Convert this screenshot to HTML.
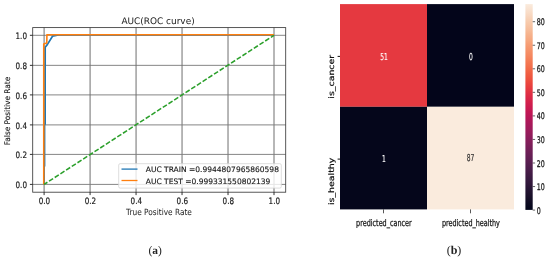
<!DOCTYPE html>
<html lang="en"><head><meta charset="utf-8"><title>ROC curve and confusion matrix</title>
<style>html,body{margin:0;padding:0;background:#fff;overflow:hidden}svg{display:block}</style></head>
<body>
<svg width="550" height="261" viewBox="0 0 550 261" font-family="'DejaVu Sans', 'Liberation Sans', sans-serif" text-rendering="geometricPrecision">
<rect x="0" y="0" width="550" height="261" fill="#ffffff"/>
<line x1="44.10" y1="27.6" x2="44.10" y2="192.2" stroke="#7c7c7c" stroke-width="1.1"/>
<line x1="32.7" y1="184.40" x2="285.7" y2="184.40" stroke="#707070" stroke-width="0.85"/>
<line x1="90.08" y1="27.6" x2="90.08" y2="192.2" stroke="#7c7c7c" stroke-width="1.1"/>
<line x1="32.7" y1="154.40" x2="285.7" y2="154.40" stroke="#707070" stroke-width="0.85"/>
<line x1="136.06" y1="27.6" x2="136.06" y2="192.2" stroke="#7c7c7c" stroke-width="1.1"/>
<line x1="32.7" y1="124.90" x2="285.7" y2="124.90" stroke="#707070" stroke-width="0.85"/>
<line x1="182.04" y1="27.6" x2="182.04" y2="192.2" stroke="#7c7c7c" stroke-width="1.1"/>
<line x1="32.7" y1="94.90" x2="285.7" y2="94.90" stroke="#707070" stroke-width="0.85"/>
<line x1="228.02" y1="27.6" x2="228.02" y2="192.2" stroke="#7c7c7c" stroke-width="1.1"/>
<line x1="32.7" y1="65.35" x2="285.7" y2="65.35" stroke="#707070" stroke-width="0.85"/>
<line x1="274.00" y1="27.6" x2="274.00" y2="192.2" stroke="#7c7c7c" stroke-width="1.1"/>
<line x1="32.7" y1="35.30" x2="285.7" y2="35.30" stroke="#707070" stroke-width="0.85"/>
<clipPath id="c"><rect x="32.7" y="27.6" width="253.0" height="164.6"/></clipPath>
<g clip-path="url(#c)" fill="none" stroke-linejoin="round">
<path d="M44.10,184.40 L44.0,166.5 L44.55,166 L44.55,125 L45.15,124 L45.2,47.2 L47.3,44.6 L52.5,36.2 L58.5,35.0 L274.00,35.0" stroke="#1f77b4" stroke-width="1.7"/>
<path d="M43.75,184.40 L43.75,44.1 L46.8,43.1 L46.9,34.75 L274.00,34.75" stroke="#ff7f0e" stroke-width="1.6"/>
<line x1="44.10" y1="184.40" x2="274.00" y2="35.30" stroke="#2ca02c" stroke-width="1.55" stroke-dasharray="4.85 1.93" stroke-dashoffset="0.9"/>
</g>
<rect x="32.7" y="27.6" width="253.00" height="164.60" fill="none" stroke="#3c3c3c" stroke-width="0.85"/>
<line x1="44.10" y1="192.2" x2="44.10" y2="195.1" stroke="#1a1a1a" stroke-width="0.9"/>
<line x1="29.900000000000002" y1="184.40" x2="32.7" y2="184.40" stroke="#1a1a1a" stroke-width="0.9"/>
<text transform="translate(44.40,204.2) scale(0.82,1)" font-size="8.8" text-anchor="middle" fill="#1a1a1a" stroke="#1a1a1a" stroke-width="0.2">0.0</text>
<text transform="translate(27.0,188.00) scale(0.82,1)" font-size="8.8" text-anchor="end" fill="#1a1a1a" stroke="#1a1a1a" stroke-width="0.2">0.0</text>
<line x1="90.08" y1="192.2" x2="90.08" y2="195.1" stroke="#1a1a1a" stroke-width="0.9"/>
<line x1="29.900000000000002" y1="154.40" x2="32.7" y2="154.40" stroke="#1a1a1a" stroke-width="0.9"/>
<text transform="translate(90.38,204.2) scale(0.82,1)" font-size="8.8" text-anchor="middle" fill="#1a1a1a" stroke="#1a1a1a" stroke-width="0.2">0.2</text>
<text transform="translate(27.0,158.00) scale(0.82,1)" font-size="8.8" text-anchor="end" fill="#1a1a1a" stroke="#1a1a1a" stroke-width="0.2">0.2</text>
<line x1="136.06" y1="192.2" x2="136.06" y2="195.1" stroke="#1a1a1a" stroke-width="0.9"/>
<line x1="29.900000000000002" y1="124.90" x2="32.7" y2="124.90" stroke="#1a1a1a" stroke-width="0.9"/>
<text transform="translate(136.36,204.2) scale(0.82,1)" font-size="8.8" text-anchor="middle" fill="#1a1a1a" stroke="#1a1a1a" stroke-width="0.2">0.4</text>
<text transform="translate(27.0,128.50) scale(0.82,1)" font-size="8.8" text-anchor="end" fill="#1a1a1a" stroke="#1a1a1a" stroke-width="0.2">0.4</text>
<line x1="182.04" y1="192.2" x2="182.04" y2="195.1" stroke="#1a1a1a" stroke-width="0.9"/>
<line x1="29.900000000000002" y1="94.90" x2="32.7" y2="94.90" stroke="#1a1a1a" stroke-width="0.9"/>
<text transform="translate(182.34,204.2) scale(0.82,1)" font-size="8.8" text-anchor="middle" fill="#1a1a1a" stroke="#1a1a1a" stroke-width="0.2">0.6</text>
<text transform="translate(27.0,98.50) scale(0.82,1)" font-size="8.8" text-anchor="end" fill="#1a1a1a" stroke="#1a1a1a" stroke-width="0.2">0.6</text>
<line x1="228.02" y1="192.2" x2="228.02" y2="195.1" stroke="#1a1a1a" stroke-width="0.9"/>
<line x1="29.900000000000002" y1="65.35" x2="32.7" y2="65.35" stroke="#1a1a1a" stroke-width="0.9"/>
<text transform="translate(228.32,204.2) scale(0.82,1)" font-size="8.8" text-anchor="middle" fill="#1a1a1a" stroke="#1a1a1a" stroke-width="0.2">0.8</text>
<text transform="translate(27.0,68.95) scale(0.82,1)" font-size="8.8" text-anchor="end" fill="#1a1a1a" stroke="#1a1a1a" stroke-width="0.2">0.8</text>
<line x1="274.00" y1="192.2" x2="274.00" y2="195.1" stroke="#1a1a1a" stroke-width="0.9"/>
<line x1="29.900000000000002" y1="35.30" x2="32.7" y2="35.30" stroke="#1a1a1a" stroke-width="0.9"/>
<text transform="translate(274.30,204.2) scale(0.82,1)" font-size="8.8" text-anchor="middle" fill="#1a1a1a" stroke="#1a1a1a" stroke-width="0.2">1.0</text>
<text transform="translate(27.0,38.90) scale(0.82,1)" font-size="8.8" text-anchor="end" fill="#1a1a1a" stroke="#1a1a1a" stroke-width="0.2">1.0</text>
<text x="158" y="23.9" font-size="8.95" text-anchor="middle" fill="#1a1a1a">AUC(ROC curve)</text>
<text transform="translate(159,214.7) scale(0.86,1)" font-size="8.6" text-anchor="middle" fill="#1a1a1a">True Positive Rate</text>
<text transform="translate(10,111) rotate(-90) scale(0.95,1)" font-size="7.75" text-anchor="middle" fill="#1a1a1a" stroke="#1a1a1a" stroke-width="0.12">False Positive Rate</text>
<rect x="118.7" y="163.7" width="162.6" height="24.4" rx="1.5" ry="1.5" fill="#ffffff" fill-opacity="0.8" stroke="#d4d4d4" stroke-width="0.8"/>
<line x1="121.5" y1="169.1" x2="137.5" y2="169.1" stroke="#1f77b4" stroke-width="1.3"/>
<line x1="121.5" y1="180.5" x2="137.5" y2="180.5" stroke="#ff7f0e" stroke-width="1.3"/>
<text x="145.8" y="172.4" font-size="7.52" fill="#1a1a1a" stroke="#1a1a1a" stroke-width="0.15">AUC TRAIN =0.9944807965860598</text>
<text x="145.8" y="183.9" font-size="7.52" fill="#1a1a1a" stroke="#1a1a1a" stroke-width="0.15">AUC TEST =0.999331550802139</text>
<text x="155.1" y="254.2" font-size="11.4" text-anchor="middle" fill="#222" font-family="'Liberation Serif', serif">(<tspan font-weight="bold">a</tspan>)</text>
<rect x="340.0" y="4.1" width="87.0" height="102.7" fill="#e53940"/>
<rect x="427.0" y="4.1" width="87.0" height="102.7" fill="#03051a"/>
<rect x="340.0" y="106.8" width="87.0" height="102.60000000000001" fill="#05061b"/>
<rect x="427.0" y="106.8" width="87.0" height="102.60000000000001" fill="#faebdd"/>
<text transform="translate(384.10,59.75) scale(0.6,0.96)" font-size="10" text-anchor="middle" fill="#ffffff" stroke="#ffffff" stroke-width="0.12">51</text>
<text transform="translate(470.80,59.75) scale(0.6,0.96)" font-size="10" text-anchor="middle" fill="#ffffff" stroke="#ffffff" stroke-width="0.12">0</text>
<text transform="translate(383.80,162.20) scale(0.6,0.96)" font-size="10" text-anchor="middle" fill="#ffffff" stroke="#ffffff" stroke-width="0.12">1</text>
<text transform="translate(470.50,161.40) scale(0.6,0.96)" font-size="10" text-anchor="middle" fill="#262626" stroke="#262626" stroke-width="0.12">87</text>
<line x1="383.5" y1="209.4" x2="383.5" y2="213.3" stroke="#111" stroke-width="0.7"/>
<line x1="470.5" y1="209.4" x2="470.5" y2="213.3" stroke="#111" stroke-width="0.7"/>
<line x1="337.6" y1="56.4" x2="340.0" y2="56.4" stroke="#111" stroke-width="1"/>
<line x1="337.6" y1="159.1" x2="340.0" y2="159.1" stroke="#111" stroke-width="1"/>
<text transform="translate(383.90,225.90) scale(0.645,0.91)" font-size="10" text-anchor="middle" fill="#161616" stroke="#161616" stroke-width="0.3">predicted_cancer</text>
<text transform="translate(470.90,225.90) scale(0.645,0.91)" font-size="10" text-anchor="middle" fill="#161616" stroke="#161616" stroke-width="0.3">predicted_healthy</text>
<text transform="translate(333.9,54.9) scale(0.76,0.937) rotate(-90)" font-size="10" text-anchor="end" fill="#111" stroke="#111" stroke-width="0.25">is_cancer</text>
<text transform="translate(333.9,157.7) scale(0.76,0.937) rotate(-90)" font-size="10" text-anchor="end" fill="#111" stroke="#111" stroke-width="0.25">is_healthy</text>
<defs><linearGradient id="g" x1="0" y1="0" x2="0" y2="1"><stop offset="0.000" stop-color="#faebdd"/><stop offset="0.025" stop-color="#f9e2d0"/><stop offset="0.050" stop-color="#f8d9c3"/><stop offset="0.075" stop-color="#f7cfb3"/><stop offset="0.100" stop-color="#f7c6a6"/><stop offset="0.125" stop-color="#f6bc99"/><stop offset="0.150" stop-color="#f6b18b"/><stop offset="0.175" stop-color="#f6a880"/><stop offset="0.200" stop-color="#f69c73"/><stop offset="0.225" stop-color="#f59269"/><stop offset="0.250" stop-color="#f58860"/><stop offset="0.275" stop-color="#f47c55"/><stop offset="0.300" stop-color="#f3714d"/><stop offset="0.325" stop-color="#f16445"/><stop offset="0.350" stop-color="#ef5840"/><stop offset="0.375" stop-color="#ec4c3e"/><stop offset="0.400" stop-color="#e83f3f"/><stop offset="0.425" stop-color="#e23442"/><stop offset="0.450" stop-color="#db2946"/><stop offset="0.475" stop-color="#d3214b"/><stop offset="0.500" stop-color="#cb1b4f"/><stop offset="0.525" stop-color="#c11754"/><stop offset="0.550" stop-color="#b71657"/><stop offset="0.575" stop-color="#ab185a"/><stop offset="0.600" stop-color="#a11a5b"/><stop offset="0.625" stop-color="#971c5b"/><stop offset="0.650" stop-color="#8b1d5b"/><stop offset="0.675" stop-color="#811e5a"/><stop offset="0.700" stop-color="#751f58"/><stop offset="0.725" stop-color="#6b1f56"/><stop offset="0.750" stop-color="#611f53"/><stop offset="0.775" stop-color="#561e4f"/><stop offset="0.800" stop-color="#4c1d4b"/><stop offset="0.825" stop-color="#421b45"/><stop offset="0.850" stop-color="#381a40"/><stop offset="0.875" stop-color="#30173a"/><stop offset="0.900" stop-color="#251433"/><stop offset="0.925" stop-color="#1d112c"/><stop offset="0.950" stop-color="#130d25"/><stop offset="0.975" stop-color="#0a091f"/><stop offset="1.000" stop-color="#03051a"/></linearGradient></defs>
<rect x="525.4" y="4.1" width="7.300000000000068" height="205.8" fill="url(#g)"/>
<line x1="532.7" y1="210.10" x2="535.1" y2="210.10" stroke="#222" stroke-width="0.7"/>
<text transform="translate(536.8,213.60) scale(0.63,0.91)" font-size="10" fill="#161616" stroke="#161616" stroke-width="0.3">0</text>
<line x1="532.7" y1="186.55" x2="535.1" y2="186.55" stroke="#222" stroke-width="0.7"/>
<text transform="translate(536.8,190.05) scale(0.63,0.91)" font-size="10" fill="#161616" stroke="#161616" stroke-width="0.3">10</text>
<line x1="532.7" y1="163.00" x2="535.1" y2="163.00" stroke="#222" stroke-width="0.7"/>
<text transform="translate(536.8,166.50) scale(0.63,0.91)" font-size="10" fill="#161616" stroke="#161616" stroke-width="0.3">20</text>
<line x1="532.7" y1="139.45" x2="535.1" y2="139.45" stroke="#222" stroke-width="0.7"/>
<text transform="translate(536.8,142.95) scale(0.63,0.91)" font-size="10" fill="#161616" stroke="#161616" stroke-width="0.3">30</text>
<line x1="532.7" y1="115.90" x2="535.1" y2="115.90" stroke="#222" stroke-width="0.7"/>
<text transform="translate(536.8,119.40) scale(0.63,0.91)" font-size="10" fill="#161616" stroke="#161616" stroke-width="0.3">40</text>
<line x1="532.7" y1="92.35" x2="535.1" y2="92.35" stroke="#222" stroke-width="0.7"/>
<text transform="translate(536.8,95.85) scale(0.63,0.91)" font-size="10" fill="#161616" stroke="#161616" stroke-width="0.3">50</text>
<line x1="532.7" y1="68.80" x2="535.1" y2="68.80" stroke="#222" stroke-width="0.7"/>
<text transform="translate(536.8,72.30) scale(0.63,0.91)" font-size="10" fill="#161616" stroke="#161616" stroke-width="0.3">60</text>
<line x1="532.7" y1="45.25" x2="535.1" y2="45.25" stroke="#222" stroke-width="0.7"/>
<text transform="translate(536.8,48.75) scale(0.63,0.91)" font-size="10" fill="#161616" stroke="#161616" stroke-width="0.3">70</text>
<line x1="532.7" y1="21.70" x2="535.1" y2="21.70" stroke="#222" stroke-width="0.7"/>
<text transform="translate(536.8,25.20) scale(0.63,0.91)" font-size="10" fill="#161616" stroke="#161616" stroke-width="0.3">80</text>
<text x="454" y="254.2" font-size="12" text-anchor="middle" fill="#222" font-family="'Liberation Serif', serif">(<tspan font-weight="bold">b</tspan>)</text>
</svg>
</body></html>
